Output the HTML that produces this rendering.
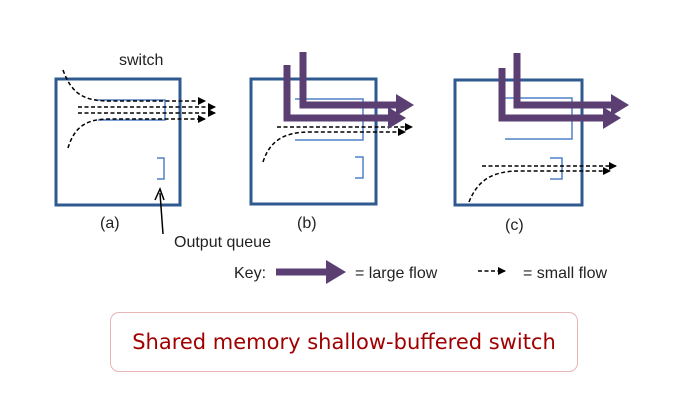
<!DOCTYPE html>
<html><head><style>
html,body{margin:0;padding:0;background:#fff;}
body{width:676px;height:410px;position:relative;overflow:hidden;}
svg{position:absolute;left:0;top:0;}
text{font-family:"Liberation Sans",sans-serif;}
.box{position:absolute;left:110px;top:312px;width:468px;height:60px;border:1px solid #e8b4b4;border-radius:9px;box-sizing:border-box;display:flex;align-items:center;justify-content:center;color:#a00000;font-family:"DejaVu Sans","Liberation Sans",sans-serif;font-size:21px;}
</style></head><body>
<svg width="676" height="410" viewBox="0 0 676 410">
<defs>
<marker id="ah" markerWidth="8" markerHeight="8" refX="7" refY="4" orient="auto" markerUnits="userSpaceOnUse"><path d="M0,0 L8,4 L0,8 z" fill="#000"/></marker>
</defs>
<g fill="none" stroke="#2e5a8f" stroke-width="3">
<rect x="56" y="79" width="124" height="126"/>
<rect x="251" y="79" width="125" height="125"/>
<rect x="455" y="80" width="127" height="125"/>
</g>
<g fill="none" stroke="#4f81c7" stroke-width="1.5">
<path d="M98,100 H165 V120 H98"/>
<path d="M157,158 H164 V179 H157"/>
<path d="M295,99 H363 V140 H295"/>
<path d="M355,157 H363 V178 H355"/>
<path d="M505,98 H572 V139 H505"/>
<path d="M550,158 H562 V179 H550"/>
</g>
<g fill="none" stroke="#000" stroke-width="1.5" stroke-dasharray="4,2.5">
<path d="M63,70 C72,95 85,101 110,101 H205" marker-end="url(#ah)"/>
<path d="M78,107 H215" marker-end="url(#ah)"/>
<path d="M78,113 H215" marker-end="url(#ah)"/>
<path d="M68,148 C75,125 88,119 110,119 H205" marker-end="url(#ah)"/>
<path d="M277,127 H412" marker-end="url(#ah)"/>
<path d="M263,162 C270,140 285,132 310,132 H405" marker-end="url(#ah)"/>
<path d="M482,166 H616" marker-end="url(#ah)"/>
<path d="M469,202 C478,180 492,171 520,171 H610" marker-end="url(#ah)"/>
<path d="M478,271 H505" marker-end="url(#ah)"/>
</g>
<g fill="none" stroke="#5b3f73" stroke-width="7">
<path d="M287,65 V118 H390"/>
<path d="M303,52 V105 H398"/>
<path d="M502,68 V118 H605"/>
<path d="M517,53 V105 H613"/>
<path d="M276,272 H328"/>
</g>
<g fill="#5b3f73">
<path d="M388,107 L406,118 L388,129 z"/>
<path d="M396,94 L414,105 L396,116 z"/>
<path d="M603,107 L621,118 L603,129 z"/>
<path d="M611,94 L629,105 L611,116 z"/>
<path d="M326,260 L346,272 L326,284 z"/>
</g>
<path d="M163,234 L160,193" stroke="#000" stroke-width="1.5"/>
<path d="M155,200 L160,189 L164,200" fill="none" stroke="#000" stroke-width="1.5"/>
<g font-size="16" fill="#222">
<text x="119" y="65">switch</text>
<text x="100" y="228">(a)</text>
<text x="297" y="228">(b)</text>
<text x="505" y="230">(c)</text>
<text x="174" y="247">Output queue</text>
<text x="234" y="278">Key:</text>
<text x="355" y="278">= large flow</text>
<text x="523" y="278">= small flow</text>
</g>
</svg>
<div class="box">Shared memory shallow-buffered switch</div>
</body></html>
